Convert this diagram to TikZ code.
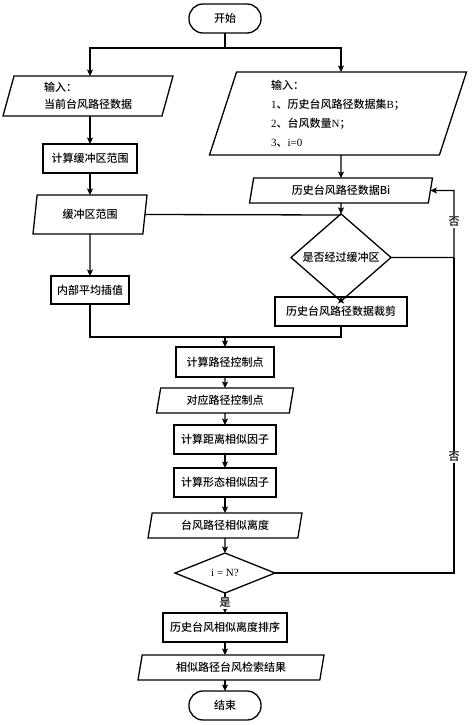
\documentclass[tikz,border=0pt]{standalone}
\usepackage{fontspec}
\setmainfont{Noto Sans CJK SC}[UprightFont=* Medium]
\newfontfamily\latin{Liberation Serif}
\usetikzlibrary{arrows.meta,calc,positioning,shapes.geometric}

\begin{document}
\begin{tikzpicture}[>={Stealth[length=6.5pt,width=6pt,inset=1.5pt]}, x=1pt, y=-1pt]
  % Global line width and text style
  \def\lw{1.3pt}
  \tikzset{
    base/.style  = {draw, line width=\lw, font=\fontsize{11}{13}\selectfont, inner sep=0pt, outer sep=0pt},
    proc/.style  = {base, rectangle, minimum height=29pt},
    term/.style  = {base, rectangle, rounded corners=14pt, minimum width=72pt, minimum height=29pt},
    io/.style    = {base, trapezium, trapezium left angle=68, trapezium right angle=112,
                    trapezium stretches body, minimum height=25pt},
    cond/.style  = {base, diamond, minimum width=100pt},
    line/.style  = {line width=\lw},
    lab/.style   = {font=\fontsize{11}{13}\selectfont, fill=white, inner sep=1pt}
  }

  % page size in pixel units
  \useasboundingbox (0,0) rectangle (474,725);

  % ========= top: start and the two inputs =========
  \node[term] (start) at (225,18.5) {开始};
  \node[io, minimum width=170pt, minimum height=40pt, align=left, font=\fontsize{11}{17}\selectfont]
    (inA) at (88,96) {输入：\\当前台风路径数据};
  \node[io, minimum width=257pt, minimum height=83pt, align=left, font=\fontsize{11}{19}\selectfont]
    (inB) at (338,113.5) {输入：\\{\latin 1}、历史台风路径数据集{\latin B}；\\{\latin 2}、台风数量{\latin N}；\\{\latin 3}、{\latin i=0}};
  \coordinate (split) at (225,48);

  % ========= left column: buffer zone =========
  \node[proc, minimum width=94pt] (buf) at (90,158.5) {计算缓冲区范围};
  \node[io, minimum width=114pt, minimum height=39pt] (bufout) at (90,214.5) {缓冲区范围};
  \node[proc, minimum width=78pt, minimum height=28pt] (inner) at (90,290) {内部平均插值};

  % ========= right column: history tracks =========
  \node[io, minimum width=183pt] (Bi) at (341,190.5) {历史台风路径数据Bi};
  \node[cond, minimum height=59pt] (check) at (341,257.5) {是否经过缓冲区};
  \node[proc, minimum width=132pt] (clip) at (341,311.5) {历史台风路径数据裁剪};
  \coordinate (join) at (341,215);
  \coordinate (railtop) at (454,190.5);
  \coordinate (railjoin) at (454,257.5);

  % ========= middle column =========
  \coordinate (merge) at (225,337);
  \node[proc, minimum width=98pt, minimum height=30pt] (ctrl) at (225,362) {计算路径控制点};
  \node[io, minimum width=137pt] (ctrlout) at (225,400.5) {对应路径控制点};
  \node[proc, minimum width=102pt] (dist) at (225,439.5) {计算距离相似因子};
  \node[proc, minimum width=102pt] (form) at (225,482.5) {计算形态相似因子};
  \node[io, minimum width=154pt] (sim) at (225,525.5) {台风路径相似离度};
  \node[cond, minimum height=40pt] (loop) at (225,573) {\latin i = N?};
  \node[proc, minimum width=124pt] (sort) at (225,627.5) {历史台风相似离度排序};
  \node[io, minimum width=186pt] (result) at (231,667.5) {相似路径台风检索结果};
  \node[term] (stop) at (225,705.5) {结束};

  % ========= connectors =========
  \draw[line] (start) -- (split);
  \draw[line,->] (split) -| (inA.north -| buf);
  \draw[line,->] (split) -| (inB.north -| Bi);
  \draw[line,->] (inA.south -| buf) -- (buf);
  \draw[line,->] (buf) -- (bufout);
  \draw[line,->] (bufout) -- (inner);
  \draw[line,->] (inB.south -| Bi) -- (Bi);
  \draw[line,->] (Bi) -- (check);
  \draw[line] (bufout.east) -- (join);
  \draw[line,->] (check.east) -| node[lab, pos=0.765] {否} (railtop) -- (Bi.east);
  \draw[line,->] (check) -- (clip);
  \draw[line] (inner.south) |- (merge) -| (clip.south);
  \draw[line,->] (merge) -- (ctrl);
  \draw[line,->] (ctrl) -- (ctrlout);
  \draw[line,->] (ctrlout) -- (dist);
  \draw[line,->] (dist) -- (form);
  \draw[line,->] (form) -- (sim);
  \draw[line,->] (sim) -- (loop);
  \draw[line] (loop.east) -| node[lab, pos=0.684] {否} (railjoin);
  \draw[line,->] (loop) -- node[lab, pos=0.5] {是} (sort);
  \draw[line,->] (sort) -- (sort |- result.north);
  \draw[line,->] (stop |- result.south) -- (stop);
\end{tikzpicture}
\end{document}
